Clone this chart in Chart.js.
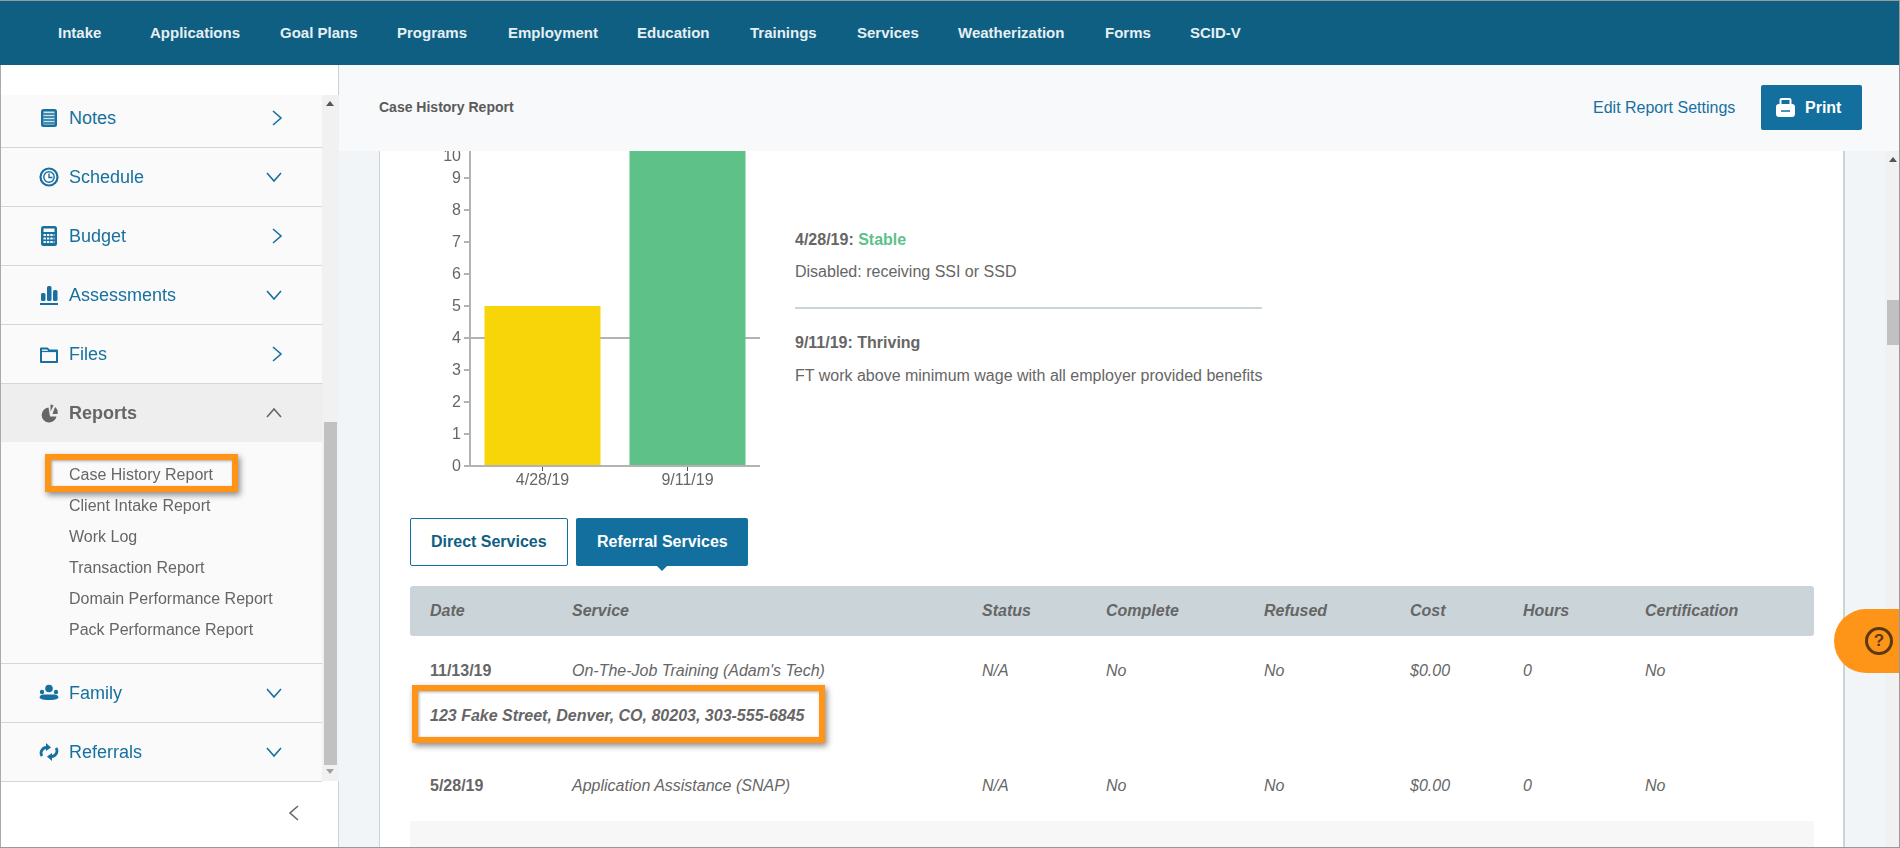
<!DOCTYPE html>
<html>
<head>
<meta charset="utf-8">
<title>Case History Report</title>
<script src="https://cdn.jsdelivr.net/npm/chart.js@4"></script>
<style>
  html, body { margin: 0; padding: 0; }
  body { width: 1900px; height: 848px; overflow: hidden; position: relative; background: #f1f5f8; font-family: "Liberation Sans", Arial, sans-serif; font-size: 16px; color: #666; }
  .t { position: absolute; transform: translateY(-50%); white-space: nowrap; }
  .box { position: absolute; box-sizing: border-box; }

  #top-nav { left: 0; top: 0; width: 1900px; height: 65px; background: #0f5f83; border-top: 1px solid #999; z-index: 5; }
  #top-nav span { position: absolute; top: 31px; transform: translateY(-50%); font-size: 15px; font-weight: bold; color: #e6eff4; white-space: nowrap; }

  #sidebar { left: 0; top: 65px; width: 339px; height: 783px; background: #fff; border-right: 1px solid #c9d2d8; border-left: 1px solid #aaa; z-index: 3; }
  #side-list { position: absolute; left: 0; top: 30px; width: 321px; background: #fafafa; }
  .side-row { position: relative; height: 58px; border-bottom: 1px solid #d0d8dc; box-sizing: content-box; }
  .side-row.first { height: 52px; }
  .side-row.open { background: #eee; border-bottom: none; }
  .side-row .label { position: absolute; left: 68px; top: 50%; transform: translateY(-50%); font-size: 18px; color: #17709f; }
  .side-row.first .label { top: 23px; }
  .side-row.open .label { font-weight: bold; color: #666; }
  .side-row svg.ic { position: absolute; left: 38px; top: 50%; transform: translateY(-50%); }
  .side-row.first svg.ic { top: 23px; }
  .side-row svg.chev { position: absolute; left: 263px; top: 50%; transform: translateY(-50%); }
  .side-row.first svg.chev { top: 23px; }
  #side-sub { position: relative; height: 221px; border-bottom: 1px solid #d0d8dc; }
  #side-sub span { position: absolute; left: 68px; transform: translateY(-50%); white-space: nowrap; color: #666; }
  #side-bar { position: absolute; left: 321px; top: 30px; width: 17px; height: 686px; background: #f1f1f1; }

  #sub-head { left: 339px; top: 65px; width: 1561px; height: 86px; background: #f7f9fb; z-index: 2; }
  #card { left: 379px; top: 151px; width: 1466px; height: 697px; background: #fff; border-left: 1px solid #c9d4dc; border-right: 2px solid #c9d4dc; }
  #chart-wrap { position: absolute; left: 400px; top: 122px; width: 360px; height: 378px; z-index: 1; }
  #right-bar { left: 1885px; top: 151px; width: 14px; height: 697px; background: #f1f1f1; z-index: 2; }

  #tab-direct { left: 410px; top: 518px; width: 158px; height: 48px; border: 1px solid #126f9e; border-radius: 2px; background: #fff; }
  #tab-referral { left: 576px; top: 518px; width: 172px; height: 48px; background: #126f9e; border-radius: 2px; }
  #tab-caret { left: 657px; top: 566px; width: 0; height: 0; border-left: 5px solid transparent; border-right: 5px solid transparent; border-top: 5px solid #126f9e; }
  #table-head { left: 410px; top: 586px; width: 1404px; height: 50px; background: #cbd5d9; border-radius: 3px; }
  #table-foot { left: 410px; top: 821px; width: 1404px; height: 26px; background: #f7f7f7; }

  .mark { border: 6px solid #ff9518; box-shadow: 2px 3px 6px rgba(0,0,0,.45), inset 1px 1px 3px rgba(0,0,0,.35); z-index: 4; }
  #help { left: 1834px; top: 609px; width: 66px; height: 64px; background: #ff9518; border-radius: 32px 0 0 32px; z-index: 4; }
  #help-q { left: 1865px; top: 627px; width: 28px; height: 28px; border: 3px solid #5a3a10; border-radius: 50%; z-index: 5; color: #5a3a10; font-weight: bold; font-size: 17px; line-height: 22px; text-align: center; }
  #page-edge { left: 0; top: 847px; width: 1900px; height: 1px; background: #999; z-index: 6; }
  #page-right { left: 1899px; top: 0; width: 1px; height: 848px; background: #999; z-index: 6; }
</style>
</head>
<body>
<div id="top-nav" class="box"></div>

<div id="sidebar" class="box">
  <div id="side-list"></div>
  <div id="side-bar">
    <svg style="position:absolute;left:4px;top:6px" width="9" height="6"><polygon points="0,5 8,5 4,0" fill="#555"/></svg>
    <div style="position:absolute;left:2px;top:327px;width:13px;height:343px;background:#c1c1c1"></div>
    <svg style="position:absolute;left:4px;top:674px" width="9" height="6"><polygon points="0,0 8,0 4,5" fill="#a0a0a0"/></svg>
  </div>
  <svg style="position:absolute;left:287px;top:740px" width="12" height="16"><polyline points="10,1 2,8 10,15" fill="none" stroke="#666" stroke-width="1.6"/></svg>
</div>

<div id="card" class="box"></div>
<div id="chart-wrap"><canvas id="score-chart" width="360" height="378"></canvas></div>

<div id="sub-head" class="box"></div>
<div class="t" style="left:379px;top:107px;font-size:14px;font-weight:bold;color:#5a5a5a;z-index:3">Case History Report</div>
<div class="t" style="left:1593px;top:108px;color:#17709f;z-index:3">Edit Report Settings</div>
<div class="box" style="left:1761px;top:85px;width:101px;height:45px;background:#126f9e;border-radius:2px;z-index:3">
  <svg style="position:absolute;left:15px;top:13px" width="19" height="19" viewBox="0 0 19 19" fill="none" stroke="#fff" stroke-width="2">
    <rect x="4.5" y="1" width="10" height="7" rx="1"/><rect x="1" y="7" width="17" height="11" rx="2" fill="#fff"/><line x1="5" y1="13" x2="14" y2="13" stroke="#126f9e" stroke-width="1.5"/>
  </svg>
  <span class="t" style="left:44px;top:23px;font-weight:bold;color:#fff">Print</span>
</div>

<div id="right-bar" class="box">
  <svg style="position:absolute;left:4px;top:6px" width="9" height="6"><polygon points="0,5 8,5 4,0" fill="#555"/></svg>
  <div style="position:absolute;left:2px;top:149px;width:12px;height:45px;background:#c1c1c1"></div>
</div>

<div id="score-notes"></div>
<div class="box" style="left:795px;top:307px;width:467px;height:2px;background:#cbd5d9"></div>

<div id="tab-direct" class="box"></div>
<div id="tab-referral" class="box"></div>
<div id="tab-caret" class="box"></div>
<div id="tab-labels"></div>
<div id="table-head" class="box"></div>
<div id="table-foot" class="box"></div>
<div id="table-text"></div>

<div class="box mark" style="left:45px;top:454px;width:193px;height:38px"></div>
<div class="box mark" style="left:412px;top:685px;width:413px;height:58px"></div>

<div id="help" class="box"></div>
<div id="help-q" class="box">?</div>
<div id="page-edge" class="box"></div>
<div id="page-right" class="box"></div>

<script>
// Chart data
const categories = ['4/28/19', '9/11/19'];
const scoreValues = [5, 10];
const barColors = ['#f8d508', '#5dc188'];
const scoreMin = 0;
const scoreMax = 10;
const scoreStep = 1;
const guideValue = 4;

// Text beside the chart
const noteDates = ['4/28/19:', '9/11/19:'];
const noteLevels = ['Stable', 'Thriving'];
const noteLevelColors = ['#5dc188', '#666'];
const noteTexts = ['Disabled: receiving SSI or SSD', 'FT work above minimum wage with all employer provided benefits'];

// Page text
const topNavItems = ['Intake', 'Applications', 'Goal Plans', 'Programs', 'Employment', 'Education', 'Trainings', 'Services', 'Weatherization', 'Forms', 'SCID-V'];
const sideItems = ['Notes', 'Schedule', 'Budget', 'Assessments', 'Files', 'Reports', 'Family', 'Referrals'];
const sideChevrons = ['right', 'down', 'right', 'down', 'right', 'up', 'down', 'down'];
const reportLinks = ['Case History Report', 'Client Intake Report', 'Work Log', 'Transaction Report', 'Domain Performance Report', 'Pack Performance Report'];
const tableColumns = ['Date', 'Service', 'Status', 'Complete', 'Refused', 'Cost', 'Hours', 'Certification'];
const referralFirst = ['11/13/19', 'On-The-Job Training (Adam\'s Tech)', 'N/A', 'No', 'No', '$0.00', '0', 'No'];
const referralAddress = '123 Fake Street, Denver, CO, 80203, 303-555-6845';
const referralSecond = ['5/28/19', 'Application Assistance (SNAP)', 'N/A', 'No', 'No', '$0.00', '0', 'No'];

const sideIcons = {
  Notes: '<rect x="2" y="1" width="16" height="18" rx="2.5" fill="#17709f"/><rect x="4.5" y="3.5" width="11" height="13" fill="#cfe2ec"/><path d="M4.5 6h11M4.5 9h11M4.5 12h11M4.5 15h11" stroke="#17709f" stroke-width="1.3"/>',
  Schedule: '<circle cx="10" cy="10" r="8.5" fill="none" stroke="#17709f" stroke-width="2.2"/><circle cx="10" cy="10" r="5.2" fill="none" stroke="#17709f" stroke-width="1.4"/><path d="M10 6.5v4h3.5" fill="none" stroke="#17709f" stroke-width="1.4"/>',
  Budget: '<rect x="2" y="0" width="16" height="20" rx="2.5" fill="#17709f"/><rect x="4.5" y="2.5" width="11" height="3.5" fill="#fafafa"/><path d="M4.5 9h11M4.5 12.5h11M4.5 16h11" stroke="#fafafa" stroke-width="2" stroke-dasharray="2.4 1"/>',
  Assessments: '<rect x="2" y="8" width="4.5" height="8" rx="1.5" fill="#17709f"/><rect x="8" y="1" width="4.5" height="15" rx="1.5" fill="#17709f"/><rect x="14" y="5" width="4.5" height="11" rx="1.5" fill="#17709f"/><rect x="1" y="18" width="18" height="2" fill="#17709f"/>',
  Files: '<path d="M2 4.5h6.5l1.5 2h8v11.5H2z" fill="none" stroke="#17709f" stroke-width="2" stroke-linejoin="round"/><path d="M2 7.5h16" stroke="#17709f" stroke-width="1.2"/>',
  Reports: '<path d="M9.5 4.5a7.5 7.5 0 1 0 8 9h-6.5z" fill="#666"/><path d="M11.5 1.5a7 7 0 0 1 3 1l-3 6z" fill="#666"/><path d="M16 4a7 7 0 0 1 2.5 7h-5z" fill="#666"/>',
  Family: '<circle cx="10" cy="5.5" r="3.8" fill="#17709f"/><circle cx="3" cy="9" r="2.2" fill="#17709f"/><circle cx="17" cy="9" r="2.2" fill="#17709f"/><path d="M0.5 15c0-2.5 2-3.5 4-3.5h11c2 0 4 1 4 3.5-3 2-6 2-9.5 2s-6.5 0-9.5-2z" fill="#17709f"/>',
  Referrals: '<path d="M8 5.5a5.5 5.5 0 0 0-5 8.5M12 14.5a5.5 5.5 0 0 0 5-8.5" fill="none" stroke="#17709f" stroke-width="2.8"/><path d="M7 1l5 4.5-5 3.5zM13 19l-5-4.5 5-3.5z" fill="#17709f"/>'
};

const chevronPoints = {
  right: '6,3 14,10 6,17',
  down: '3,6 10,14 17,6',
  up: '3,14 10,6 17,14'
};

function addText(parent, text, left, top, style) {
  const el = document.createElement('div');
  el.className = 't';
  el.textContent = text;
  el.style.cssText = `left:${left}px;top:${top}px;${style || ''}`;
  parent.appendChild(el);
  return el;
}

function buildTopNav() {
  const nav = document.getElementById('top-nav');
  const lefts = [58, 150, 280, 397, 508, 637, 750, 857, 958, 1105, 1190];
  topNavItems.forEach((item, i) => {
    const span = document.createElement('span');
    span.textContent = item;
    span.style.left = lefts[i] + 'px';
    nav.appendChild(span);
  });
}

function buildSidebar() {
  const list = document.getElementById('side-list');
  sideItems.forEach((item, i) => {
    const row = document.createElement('div');
    row.className = 'side-row' + (i === 0 ? ' first' : '') + (item === 'Reports' ? ' open' : '');
    const chevColor = item === 'Reports' ? '#666' : '#17709f';
    const chevLeft = sideChevrons[i] === 'right' ? 3 : 0;
    row.innerHTML = `
      <svg class="ic" width="20" height="20" viewBox="0 0 20 20">${sideIcons[item]}</svg>
      <span class="label">${item}</span>
      <svg class="chev" style="margin-left:${chevLeft}px" width="20" height="20"><polyline points="${chevronPoints[sideChevrons[i]]}" fill="none" stroke="${chevColor}" stroke-width="1.6"/></svg>`;
    list.appendChild(row);

    if (item === 'Reports') {
      const sub = document.createElement('div');
      sub.id = 'side-sub';
      reportLinks.forEach((link, j) => {
        const span = document.createElement('span');
        span.textContent = link;
        span.style.top = (33 + j * 31) + 'px';
        sub.appendChild(span);
      });
      list.appendChild(sub);
    }
  });
}

function buildNotes() {
  const holder = document.getElementById('score-notes');
  const dateTops = [240, 343];
  const textTops = [272, 376];
  noteDates.forEach((date, i) => {
    const head = addText(holder, date, 795, dateTops[i], 'font-weight:bold');
    const level = document.createElement('span');
    level.textContent = ' ' + noteLevels[i];
    level.style.color = noteLevelColors[i];
    head.appendChild(level);
    addText(holder, noteTexts[i], 795, textTops[i]);
  });
}

function buildTable() {
  const tabs = document.getElementById('tab-labels');
  addText(tabs, 'Direct Services', 431, 542, 'font-weight:bold;color:#0f5f83');
  addText(tabs, 'Referral Services', 597, 542, 'font-weight:bold;color:#fff');

  const holder = document.getElementById('table-text');
  const columnLefts = [430, 572, 982, 1106, 1264, 1410, 1523, 1645];
  tableColumns.forEach((col, i) => {
    addText(holder, col, columnLefts[i], 611, 'font-weight:bold;font-style:italic');
  });
  referralFirst.forEach((cell, i) => {
    addText(holder, cell, columnLefts[i], 671, i === 0 ? 'font-weight:bold' : 'font-style:italic');
  });
  addText(holder, referralAddress, 430, 716, 'font-weight:bold;font-style:italic');
  referralSecond.forEach((cell, i) => {
    addText(holder, cell, columnLefts[i], 786, i === 0 ? 'font-weight:bold' : 'font-style:italic');
  });
}

function buildChart() {
  new Chart(document.getElementById('score-chart'), {
    type: 'bar',
    data: {
      labels: categories,
      datasets: [{
        data: scoreValues,
        backgroundColor: barColors,
        borderWidth: 0,
        categoryPercentage: 0.8,
        barPercentage: 1
      }]
    },
    options: {
      responsive: false,
      animation: false,
      layout: { padding: { top: 24, left: 0, right: 0, bottom: 0 } },
      plugins: {
        legend: { display: false },
        tooltip: { enabled: false }
      },
      scales: {
        x: {
          afterFit: scale => { scale.height = 34; },
          grid: { offset: false, drawOnChartArea: false, color: '#555', tickLength: 5, lineWidth: 1 },
          border: { color: '#b3b3b3', width: 2 },
          ticks: { color: '#666', font: { family: '"Liberation Sans"', size: 16 }, padding: 0, maxRotation: 0 }
        },
        y: {
          min: scoreMin,
          max: scoreMax,
          afterFit: scale => { scale.width = 70; },
          grid: {
            tickLength: 6,
            lineWidth: 2,
            color: ctx => (ctx.tick && ctx.tick.value === guideValue ? '#b3b3b3' : 'rgba(0,0,0,0)'),
            tickColor: '#b3b3b3'
          },
          border: { color: '#b3b3b3', width: 2 },
          ticks: {
            stepSize: scoreStep,
            autoSkip: false,
            color: '#666',
            font: { family: '"Liberation Sans"', size: 16 },
            padding: 3,
            labelOffset: 1,
            // the top label sits half a line lower than its tick, as in the original
            callback: value => (value === scoreMax ? ['', String(value)] : String(value))
          }
        }
      }
    }
  });
}

document.addEventListener('DOMContentLoaded', () => {
  buildTopNav();
  buildSidebar();
  buildNotes();
  buildTable();
  buildChart();
});
</script>
</body>
</html>
